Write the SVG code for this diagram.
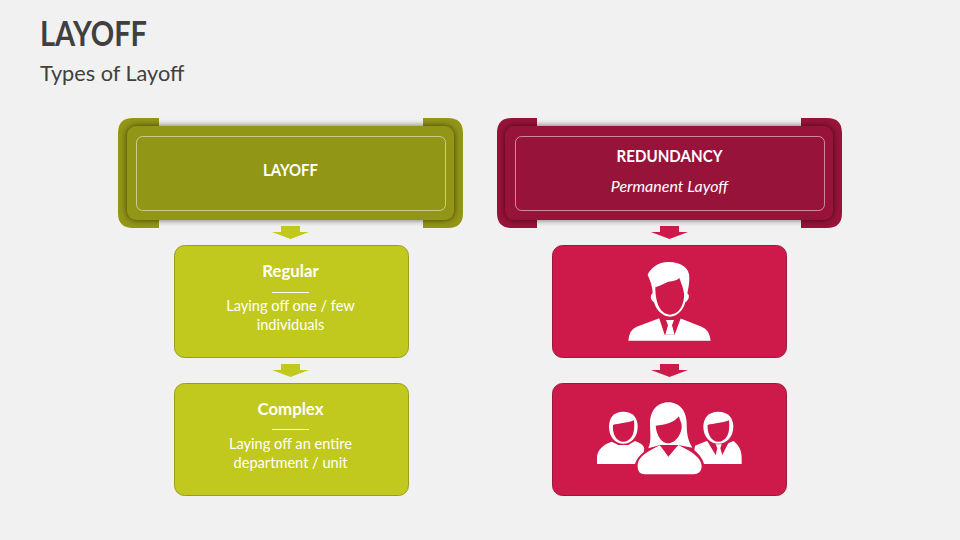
<svg xmlns="http://www.w3.org/2000/svg" width="960" height="540" viewBox="0 0 960 540">
<style>
text{font-family:"Lato","Open Sans","Liberation Sans",sans-serif;fill:#fff;text-anchor:middle}
.h{font-weight:700;font-size:16.800px}
.b{font-size:14.600px}
.outline{fill:none;stroke:#fff;stroke-opacity:.5;stroke-width:1}
.ol{fill:#929616}.cr{fill:#98133a}
.lbox{fill:#c1c91f;stroke:#9c9c1c;stroke-width:1}
.rbox{fill:#ce1a4a;stroke:#9a1a3c;stroke-width:1}
.la{fill:#c1c91f}.ra{fill:#ce1a4a}
.w{fill:#fff}.c{fill:#ce1a4a}
</style>
<defs>
<filter id="sh" x="-5%" y="-15%" width="110%" height="130%"><feGaussianBlur stdDeviation="3"/></filter>
<path id="arrow" d="M9 0H28V6H37L18.500 13L0 6H9Z"/>
</defs>
<rect width="960" height="540" fill="#f1f1f1"/>
<text x="40" y="46" textLength="107" lengthAdjust="spacingAndGlyphs" style="text-anchor:start;font-weight:700;font-size:34px;fill:#404040">LAYOFF</text>
<text x="40" y="81" style="text-anchor:start;font-size:21.700px;fill:#404040">Types of Layoff</text>
<g id="connectors">
<use href="#arrow" x="272" y="226" class="la"/>
<use href="#arrow" x="272" y="364" class="la"/>
<use href="#arrow" x="651" y="226" class="ra"/>
<use href="#arrow" x="651" y="364" class="ra"/>
</g>
<g id="node-layoff">
<path class="ol" d="M159 118H133Q118 118 118 133V213Q118 228 133 228H159ZM423 118H448Q463 118 463 133V213Q463 228 448 228H423Z"/>
<rect x="127" y="126" width="327" height="94" rx="9" fill="#000" opacity=".6" filter="url(#sh)"/>
<rect x="127" y="126" width="327" height="94" rx="9" class="ol"/>
<rect x="136.500" y="136.500" width="309" height="74" rx="6" class="outline"/>
<text x="290.500" y="176" textLength="55" lengthAdjust="spacingAndGlyphs" class="h">LAYOFF</text>
</g>
<g id="node-redundancy">
<path class="cr" d="M537 118H512Q497 118 497 133V213Q497 228 512 228H537ZM801 118H827Q842 118 842 133V213Q842 228 827 228H801Z"/>
<rect x="505" y="126" width="328" height="94" rx="9" fill="#000" opacity=".6" filter="url(#sh)"/>
<rect x="505" y="126" width="328" height="94" rx="9" class="cr"/>
<rect x="515.500" y="136.500" width="309" height="74" rx="6" class="outline"/>
<text x="669.500" y="162" textLength="106" lengthAdjust="spacingAndGlyphs" class="h">REDUNDANCY</text>
<text x="669.500" y="192" style="font-size:16px" font-style="italic">Permanent Layoff</text>
</g>
<g id="node-regular">
<rect x="174.500" y="245.500" width="234" height="112" rx="10" class="lbox"/>
<text x="290.500" y="277" class="h">Regular</text>
<path d="M272 292.500H309" stroke="#fff" stroke-width="1"/>
<text x="290.500" y="310.500" class="b">Laying off one / few</text>
<text x="290.500" y="330" class="b">individuals</text>
</g>
<g id="node-complex">
<rect x="174.500" y="383.500" width="234" height="112" rx="10" class="lbox"/>
<text x="290.500" y="415" class="h">Complex</text>
<path d="M272 429.500H309" stroke="#fff" stroke-width="1"/>
<text x="290.500" y="449" class="b">Laying off an entire</text>
<text x="290.500" y="468" class="b">department / unit</text>
</g>
<g id="node-individual">
<rect x="552.500" y="245.500" width="234" height="112" rx="10" class="rbox"/>
<g transform="translate(600 250) scale(.3333)">
<path class="w" d="M178 205L110 230Q88 238 85 272H332Q328 238 305 230L240 205Z"/>
<path class="c" d="M176 200H244L224 254H194Z"/>
<path class="w" d="M198 210H222L216 226L224 254H196L204 226Z"/>
<path class="w" d="M143 75C150 55 175 36 205 36C245 36 270 55 268 85C268 105 264 120 262 130C270 135 268 150 256 157C250 180 232 200 210 200C188 200 168 180 162 157C150 150 150 135 158 130C158 110 150 90 143 75Z"/>
<path class="c" d="M166 112C185 104 195 100 205 95C220 95 232 90 238 84C244 100 250 115 252 130C254 150 246 192 210 194C176 192 166 150 166 112Z"/>
</g>
</g>
<g id="node-team">
<rect x="552.500" y="383.500" width="234" height="112" rx="10" class="rbox"/>
<g transform="translate(585 395) scale(.3333)">
<path class="w" d="M36 207V188C36 165 55 148 80 140L100 150H130L150 138C165 143 175 150 178 160L170 207Z"/>
<path class="w" d="M115 50C145 50 158 70 158 95C158 125 140 146 115 146C90 146 72 125 72 95C72 70 85 50 115 50Z"/>
<path class="c" d="M84 90C100 85 125 85 147 76C149 95 148 110 142 122C135 134 125 140 115 140C105 140 95 134 89 122C84 112 83 100 84 90Z"/>
<path class="w" d="M322 207L330 152L365 138L385 150H418L445 138C460 148 470 165 470 188V207Z"/>
<path class="c" d="M368 140H432L412 180H392Z"/>
<path class="w" d="M392 148H410L406 160L412 180H392L397 160Z"/>
<path class="w" d="M400 50C430 50 445 70 445 95C445 125 425 146 400 146C375 146 355 125 355 95C355 70 370 50 400 50Z"/>
<path class="c" d="M368 90C385 85 410 85 432 76C434 95 433 110 427 122C420 134 410 140 400 140C390 140 380 134 374 122C369 112 367 100 368 90Z"/>
<path class="c" d="M145 240C145 190 170 170 215 150L300 150C335 165 362 190 362 240Z"/>
<path class="w" d="M158 214C158 190 175 175 226 150L250 185L280 150C325 172 350 190 350 214C350 230 340 238 325 238H180C165 238 158 230 158 214Z"/>
<path class="c" d="M222 148H278L250 183Z"/>
<path class="w" d="M250 22C285 22 305 50 305 85C305 115 308 135 322 158L280 150H225L190 160C200 135 195 115 195 85C195 50 215 22 250 22Z"/>
<path class="c" d="M212 92C240 90 268 82 282 64C285 78 292 85 290 100C286 125 268 145 250 145C232 145 215 125 212 92Z"/>
</g>
</g>
</svg>
